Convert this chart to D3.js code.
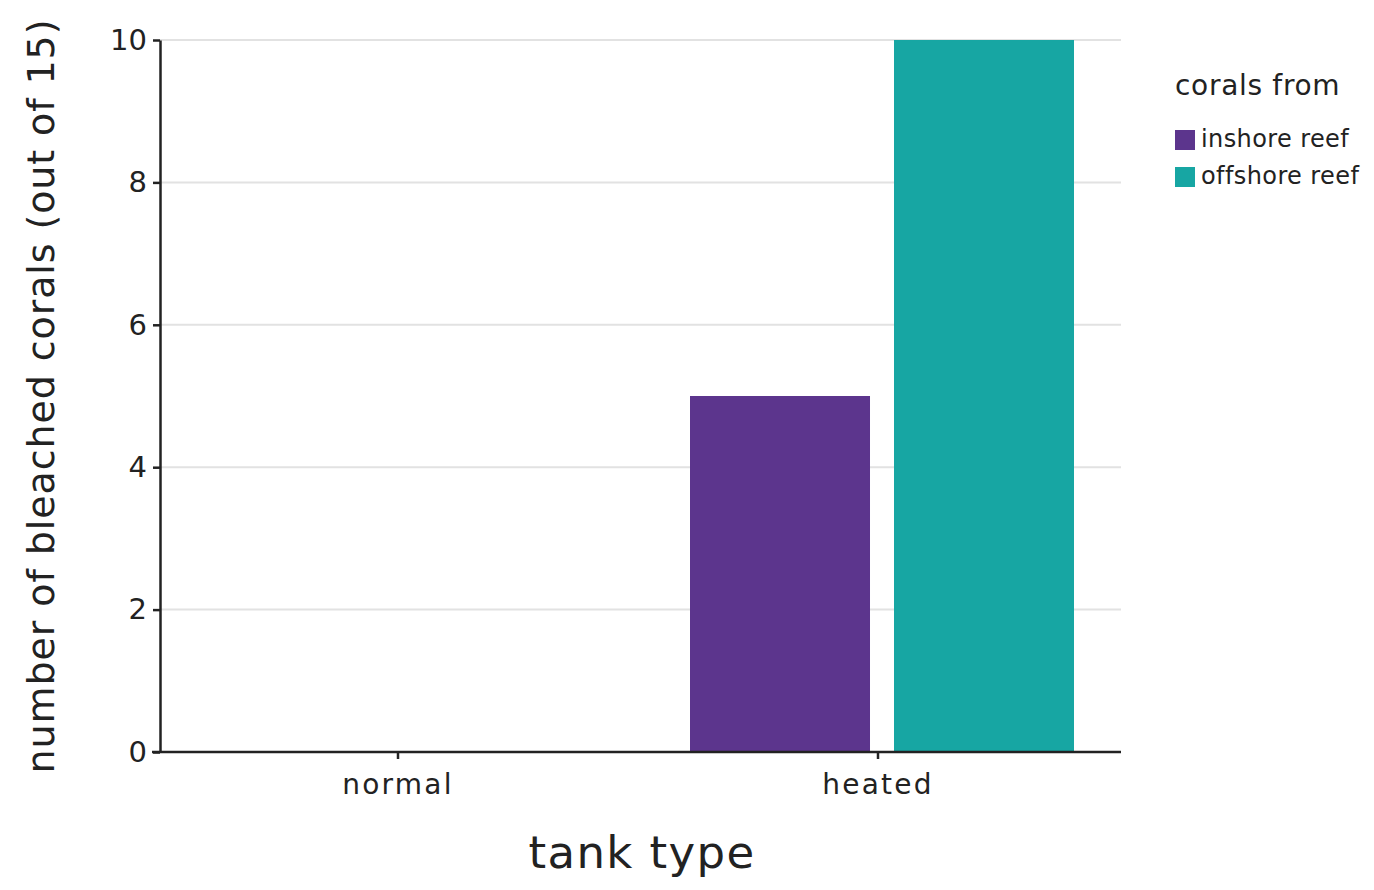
<!DOCTYPE html>
<html><head><meta charset="utf-8">
<script src="https://cdn.jsdelivr.net/npm/d3@7"></script>
<style>
html,body{margin:0;padding:0;background:#fff;}
text{font-family:"DejaVu Sans",sans-serif;fill:#222;}
</style></head>
<body>
<svg id="chart" width="1374" height="890"></svg>
<script>
const categories = ["normal", "heated"];
const seriesNames = ["inshore reef", "offshore reef"];
const inshoreValues = [0, 5];
const offshoreValues = [0, 10];
const yTicks = [0, 2, 4, 6, 8, 10];
const colors = ["#5c358d", "#17a6a3"];

const svg = d3.select("#chart");
const m = {left: 160, right: 1121, top: 40, bottom: 752};

const x0 = d3.scaleBand().domain(categories).range([158, 1118]).padding(0);
const x1 = d3.scaleBand().domain(seriesNames).range([52, 436]).paddingInner(0.1176).paddingOuter(0);
const y = d3.scaleLinear().domain([0, 10]).range([m.bottom, m.top]);

// gridlines
svg.append("g").selectAll("line").data(yTicks).join("line")
  .attr("x1", m.left).attr("x2", m.right)
  .attr("y1", d => y(d)).attr("y2", d => y(d))
  .attr("stroke", "#e2e2e2").attr("stroke-width", 2);

// bars
const rows = categories.map((c, i) => ({cat: c, vals: [inshoreValues[i], offshoreValues[i]]}));
const g = svg.append("g").selectAll("g").data(rows).join("g")
  .attr("transform", d => `translate(${x0(d.cat)},0)`);
g.selectAll("rect").data(d => d.vals.map((v, j) => ({s: seriesNames[j], v, j})))
  .join("rect")
  .attr("x", d => x1(d.s)).attr("width", x1.bandwidth())
  .attr("y", d => y(d.v)).attr("height", d => y(0) - y(d.v))
  .attr("fill", d => colors[d.j]);

// axes
const yAxis = svg.append("g").attr("transform", `translate(${m.left},0)`)
  .call(d3.axisLeft(y).tickValues(yTicks).tickSize(7).tickPadding(6).tickSizeOuter(0));
const xAxis = svg.append("g").attr("transform", `translate(0,${m.bottom})`)
  .call(d3.axisBottom(x0).tickSize(7).tickPadding(15).tickSizeOuter(0));
xAxis.select(".domain").attr("d", `M${m.left - 8},0H${m.right}`);
[yAxis, xAxis].forEach(a => {
  a.select(".domain").attr("stroke", "#222").attr("stroke-width", 2.5);
  a.selectAll(".tick line").attr("stroke", "#222").attr("stroke-width", 2.5);
  a.selectAll("text").attr("font-family", "DejaVu Sans").attr("fill", "#222");
});
yAxis.selectAll("text").attr("font-size", 29);
xAxis.selectAll("text").attr("font-size", 28).attr("letter-spacing", 2.2);

// titles
svg.append("text").attr("x", 642).attr("y", 868).attr("text-anchor", "middle")
  .attr("font-size", 45).attr("letter-spacing", 1.4).text("tank type");
svg.append("text").attr("transform", `translate(54,396) rotate(-90)`).attr("text-anchor", "middle")
  .attr("font-size", 38).attr("letter-spacing", 0.9).text("number of bleached corals (out of 15)");

// legend
const lg = svg.append("g");
lg.append("text").attr("x", 1175).attr("y", 95).attr("font-size", 28).attr("letter-spacing", 0.7).text("corals from");
seriesNames.forEach((s, i) => {
  lg.append("rect").attr("x", 1175).attr("y", 130 + i * 37).attr("width", 20).attr("height", 20).attr("fill", colors[i]);
  lg.append("text").attr("x", 1201).attr("y", 147 + i * 37).attr("font-size", 24).attr("letter-spacing", 0.4).text(s);
});
</script>
</body></html>
